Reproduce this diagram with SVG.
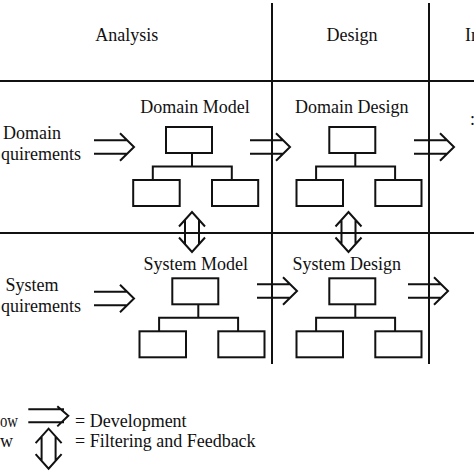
<svg xmlns="http://www.w3.org/2000/svg" width="474" height="474" viewBox="0 0 474 474">
  <style>
    text { font-family: "Liberation Serif", "Times New Roman", serif; font-size: 18px; fill: #111; }
    .mid { text-anchor: middle; }
    .ln { stroke: #111; stroke-width: 2; fill: none; }
    .box { stroke: #111; stroke-width: 2; fill: #fff; }
  </style>
  <defs>
    <g id="tree">
      <rect class="box" x="0" y="0" width="46" height="26"/>
      <path class="ln" d="M26 26V39.5M-13.2 53V39.5H65.8V53"/>
      <rect class="box" x="-32.8" y="53" width="46.5" height="26"/>
      <rect class="box" x="46" y="53" width="46.2" height="26"/>
    </g>
    <g id="dev">
      <path class="ln" d="M-40 -6.8H-7M-40 6.8H-7M-14 -13.7L0 0L-14 13.7"/>
    </g>
    <g id="fb">
      <path class="ln" d="M-13 -5.5L0 -20L13 -5.5M-13 5.5L0 20L13 5.5M-7 -12.2V12.2M7 -12.2V12.2"/>
    </g>
  </defs>

  <g id="grid">
    <path class="ln" d="M0 81H474M0 233H474M272 3V364M429 3V364"/>
  </g>

  <g id="headers">
    <text class="mid" x="126.7" y="40.5">Analysis</text>
    <text class="mid" x="352" y="40.5">Design</text>
    <text x="465" y="40.5">In</text>
    <text x="470" y="125">:</text>
  </g>

  <g id="domain-requirements">
    <text class="mid" x="32" y="139">Domain</text>
    <text x="1" y="160">quirements</text>
  </g>
  <g id="system-requirements">
    <text class="mid" x="32" y="291">System</text>
    <text x="1" y="312">quirements</text>
  </g>

  <g id="domain-model">
    <text class="mid" x="195" y="113">Domain Model</text>
    <use href="#tree" x="166" y="127"/>
  </g>
  <g id="domain-design">
    <text class="mid" x="351.8" y="113.3">Domain Design</text>
    <use href="#tree" x="329.3" y="127"/>
  </g>
  <g id="system-model">
    <text class="mid" x="195.8" y="270">System Model</text>
    <use href="#tree" x="172.3" y="278.3"/>
  </g>
  <g id="system-design">
    <text class="mid" x="346.7" y="270.3">System Design</text>
    <use href="#tree" x="329.3" y="278.3"/>
  </g>

  <g id="connectors">
    <use href="#dev" x="134" y="147"/>
    <use href="#dev" x="290" y="147"/>
    <use href="#dev" x="454" y="147"/>
    <use href="#dev" x="134" y="298.5"/>
    <use href="#dev" x="297" y="291"/>
    <use href="#dev" x="448" y="291"/>
    <use href="#fb" x="192" y="232"/>
    <use href="#fb" x="348.5" y="232"/>
  </g>

  <g id="legend">
    <path class="ln" d="M28.3 409.3H64M28.3 422.3H64M57.3 406.2L68.3 415.8L57.3 426.4"/>
    <use href="#fb" x="48.6" y="448.7"/>
    <text x="0" y="427" textLength="18" lengthAdjust="spacingAndGlyphs">ow</text>
    <text x="0" y="446.5">w</text>
    <text x="75" y="427">= Development</text>
    <text x="75" y="446.5">= Filtering and Feedback</text>
  </g>
</svg>
